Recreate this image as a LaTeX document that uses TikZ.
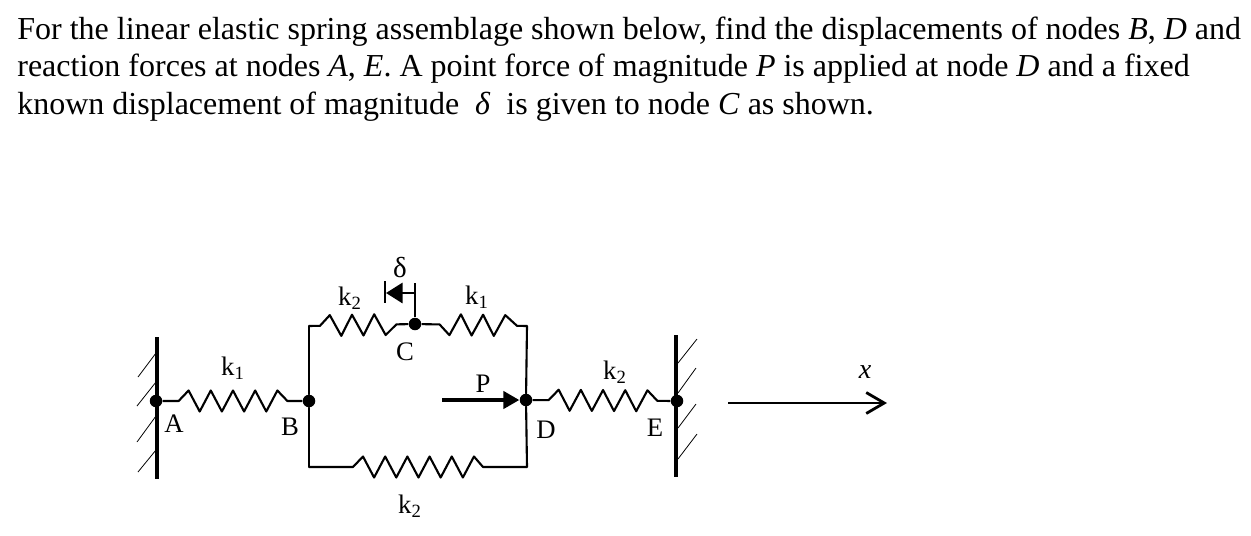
\documentclass[tikz,border=0pt]{standalone}
\usepackage{fontspec}
\setmainfont{Liberation Serif}
\usetikzlibrary{arrows.meta,decorations}
\pgfdeclaredecoration{springzag}{rise}{
  \state{rise}[width=0.2cm,next state=down]{\pgfpathlineto{\pgfpoint{0.2cm}{0.21cm}}}
  \state{down}[switch if less than=0.3cm to taper,width=0.222cm,next state=up]{\pgfpathlineto{\pgfpoint{0.222cm}{-0.21cm}}}
  \state{up}[switch if less than=0.3cm to taper,width=0.222cm,next state=down]{\pgfpathlineto{\pgfpoint{0.222cm}{0.21cm}}}
  \state{taper}[width=0pt,next state=final]{\pgfpathlineto{\pgfpoint{\pgfdecoratedremainingdistance}{0pt}}}
  \state{final}{}
}
\tikzset{
  joint/.style={circle,fill=black,inner sep=0pt,minimum size=0.25cm},
  lab/.style={inner sep=0pt,font=\fontsize{15.2pt}{17pt}\selectfont},
  para/.style={anchor=base west,inner sep=0pt,font=\fontsize{18.22pt}{21pt}\selectfont},
  bar/.style={line width=1.2pt,line cap=round},
  spring/.style 2 args={line width=1.2pt,line join=round,decorate,decoration={springzag,pre length=#1,post length=#2}},
  flip/.style={decoration={mirror}},
  wall/.style={line width=2.6pt},
  hatch/.style={line width=0.45pt}
}
\begin{document}
\begin{tikzpicture}[x=0.02cm,y=-0.02cm]
  \useasboundingbox (0,0) rectangle (1251,535);
  \node[para] (line1) at (17,39) {For the linear elastic spring assemblage shown below, find the displacements of nodes \textit{B}, \textit{D} and};
  \node[para] (line2) at (17,76) {reaction forces at nodes \textit{A}, \textit{E}. A point force of magnitude \textit{P} is applied at node \textit{D} and a fixed};
  \node[para] (line3) at (17,114) {known displacement of magnitude ~\textit{δ} ~is given to node \textit{C} as shown.};

  \node[joint] (A) at (156,401) {};
  \node[joint] (B) at (309,401) {};
  \node[joint] (C) at (415,324) {};
  \node[joint] (D) at (526,400) {};
  \node[joint] (E) at (677,401) {};
  \coordinate (tl) at (309,326);
  \coordinate (tr) at (527,326);
  \coordinate (bl) at (309,467);
  \coordinate (br) at (527,467);

  % walls
  \draw[wall] (157,337) -- (157,479);
  \draw[wall] (676,335) -- (676,477);
  \foreach \ya/\xb/\yb in {353/138/377,382/137/406,416/137/442,450/138/472}
    \draw[hatch] (156,\ya) -- (\xb,\yb);
  \foreach \ya/\xb/\yb in {363/697/339,393/696/368,428/696/404,459/697/434}
    \draw[hatch] (678,\ya) -- (\xb,\yb);

  % springs
  \draw[spring={0.32cm}{0.30cm}] (A) -- (B);
  \draw[spring={0.22cm}{0.24cm}] (tl) -- (C);
  \draw[spring={0.36cm}{0.20cm},flip] (C) -- (tr);
  \draw[spring={0.88cm}{0.88cm}] (bl) -- (br);
  \draw[spring={0.32cm}{0.26cm}] (D) -- (E);
  \draw[bar] (tl) -- (B);
  \draw[bar] (B) -- (bl);
  \draw[bar] (tr) -- (D);
  \draw[bar] (D) -- (br);

  % delta
  \coordinate (dtop) at (415,283);
  \coordinate (dmid) at (415,293);
  \coordinate (dtip) at (386,293);
  \draw[line width=0.8pt] (C) -- (dtop);
  \draw[line width=1.6pt,-{Triangle[length=0.33cm,width=0.4cm]}] (dmid) -- (dtip);
  \draw[line width=0.6pt] (385,281) -- (385,303);

  % load and axis
  \coordinate (pstart) at (442,400);
  \coordinate (xstart) at (728,403);
  \coordinate (xend) at (887,403);
  \draw[line width=2.4pt,-{Triangle[length=0.32cm,width=0.34cm]}] (pstart) -- (D);
  \draw[line width=1.6pt,-{Straight Barb[length=0.36cm,width=0.42cm]}] (xstart) -- (xend);

  \node[lab] (k1a) at (233,368) {k\textsubscript{1}};
  \node[lab] (k2a) at (350,298) {k\textsubscript{2}};
  \node[lab] (k1b) at (477,297) {k\textsubscript{1}};
  \node[lab] (k2b) at (615,372) {k\textsubscript{2}};
  \node[lab] (k2c) at (410,506) {k\textsubscript{2}};
  \node[lab,font=\fontsize{16.5pt}{17pt}\selectfont] (delta) at (400,268) {δ};
  \node[lab] (labA) at (174,424) {A};
  \node[lab] (labB) at (290,427) {B};
  \node[lab] (labC) at (405,352) {C};
  \node[lab] (labD) at (546,430) {D};
  \node[lab] (labE) at (655,428) {E};
  \node[lab] (labP) at (483,384) {P};
  \node[lab,font=\fontsize{16pt}{17pt}\selectfont] (labx) at (865,372) {\textit{x}};
\end{tikzpicture}
\end{document}
